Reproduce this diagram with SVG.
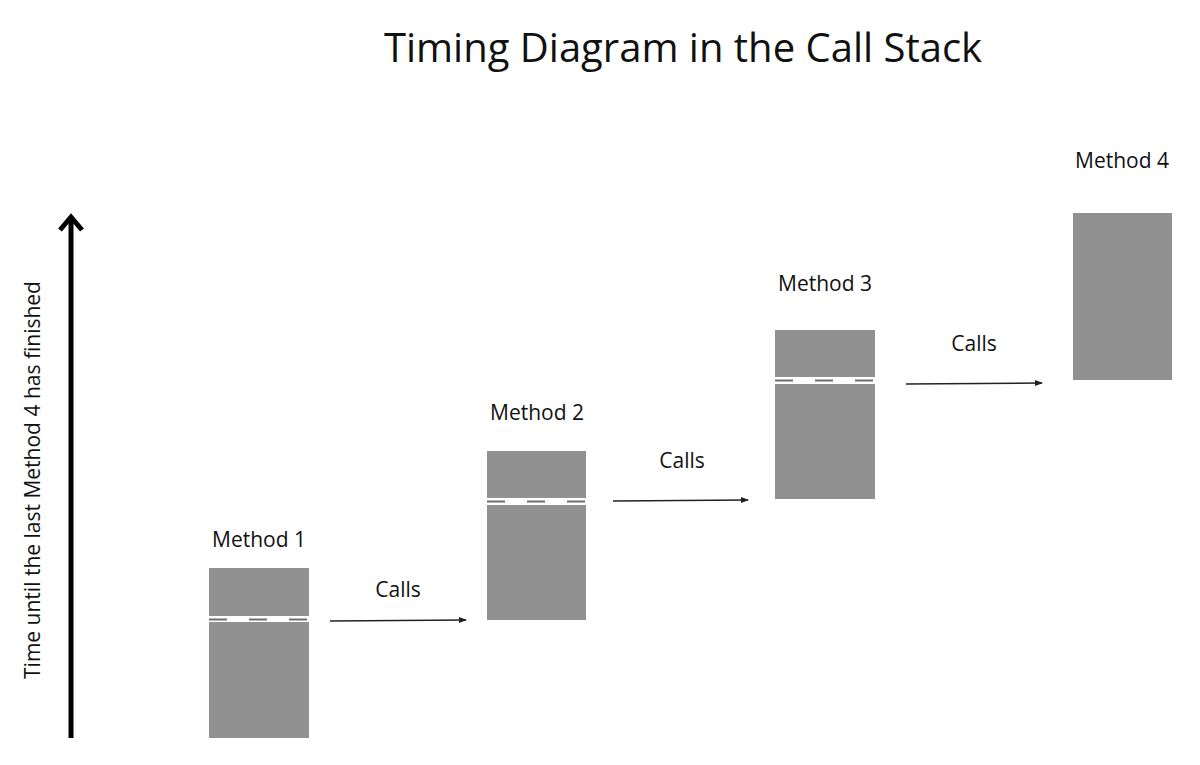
<svg xmlns="http://www.w3.org/2000/svg" width="1200" height="765" viewBox="0 0 1200 765">
<style>
text{font-family:"Open Sans","Liberation Sans",sans-serif;fill:#111}
.lbl{font-size:21px;text-anchor:middle}
.box{fill:#919191}
.dash{stroke:#6e6e6e;stroke-width:2;stroke-dasharray:18 22}
.call{stroke:#222;stroke-width:1.5;fill:none}
</style>
<defs>
<marker id="ah" markerWidth="8" markerHeight="8" refX="7" refY="4" orient="auto" markerUnits="userSpaceOnUse"><path d="M0,1 L8,4 L0,7 z" fill="#222"/></marker>
</defs>
<rect width="1200" height="765" fill="#fff"/>
<text x="683" y="62" font-size="40" text-anchor="middle">Timing Diagram in the Call Stack</text>
<g id="axis">
<line x1="71" y1="738" x2="71" y2="220" stroke="#000" stroke-width="5"/>
<path d="M60,230 L71,217 L82,230" fill="none" stroke="#000" stroke-width="5"/>
<text transform="translate(40,480) rotate(-90)" font-size="21" text-anchor="middle">Time until the last Method 4 has finished</text>
</g>
<g id="method1">
<text class="lbl" x="259" y="547">Method 1</text>
<rect class="box" x="209" y="568" width="100" height="48"/>
<line class="dash" x1="209" y1="619.5" x2="309" y2="619.5"/>
<rect class="box" x="209" y="622" width="100" height="116"/>
</g>
<g id="method2">
<text class="lbl" x="537" y="420">Method 2</text>
<rect class="box" x="487" y="451" width="99" height="47"/>
<line class="dash" x1="487" y1="501.5" x2="586" y2="501.5"/>
<rect class="box" x="487" y="505" width="99" height="115"/>
</g>
<g id="method3">
<text class="lbl" x="825" y="291">Method 3</text>
<rect class="box" x="775" y="330" width="100" height="47"/>
<line class="dash" x1="775" y1="380.5" x2="875" y2="380.5"/>
<rect class="box" x="775" y="384" width="100" height="115"/>
</g>
<g id="method4">
<text class="lbl" x="1122" y="168">Method 4</text>
<rect class="box" x="1073" y="213" width="99" height="167"/>
</g>
<g id="connectors">
<line class="call" x1="330" y1="621" x2="466" y2="620" marker-end="url(#ah)"/>
<line class="call" x1="613" y1="501" x2="748" y2="500" marker-end="url(#ah)"/>
<line class="call" x1="906" y1="384" x2="1042" y2="383" marker-end="url(#ah)"/>
<text class="lbl" x="398" y="597">Calls</text>
<text class="lbl" x="682" y="468">Calls</text>
<text class="lbl" x="974" y="351">Calls</text>
</g>
</svg>
